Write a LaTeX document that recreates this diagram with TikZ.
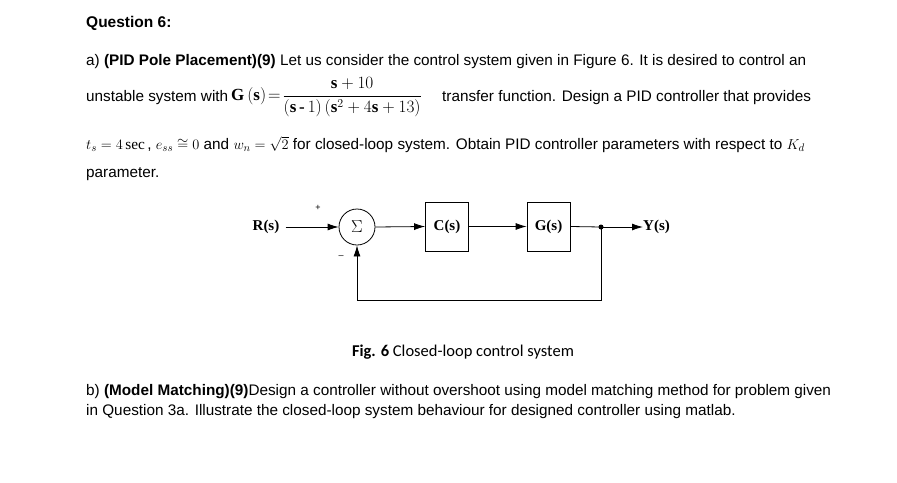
\documentclass[tikz,border=0pt]{standalone}
\usepackage{amsmath}
\usepackage{fontspec}
\setmainfont{Liberation Sans}
\newfontfamily\tnr{Liberation Serif}
\newfontfamily\capfnt{Carlito}
\usetikzlibrary{arrows.meta}
\begin{document}
\begin{tikzpicture}[x=1pt,y=-1pt,
  txt/.style={anchor=base west,inner sep=0,font=\fontsize{15.3}{17}\selectfont},
  blk/.style={draw,thick,minimum width=43pt,minimum height=49pt,inner sep=0,font=\tnr\bfseries\fontsize{15}{17}\selectfont},
  lab/.style={inner sep=0,font=\tnr\bfseries\fontsize{15}{17}\selectfont},
  sig/.style={thick,-{Latex[length=11pt,width=7pt]}},
  ln/.style={thick}]
\path[fill=white] (0,0) rectangle (897,482);
\node[txt,font=\bfseries\fontsize{15.5}{17}\selectfont] (q) at (86,27) {Question 6:};
\node[txt] (l1) at (86,65) {a) \textbf{(PID Pole Placement)(9)} Let us consider the control system given in Figure 6. It is desired to control an};
\node[txt] (l2) at (86,101) {unstable system with};
\node[anchor=west,inner sep=0,font=\fontsize{17}{19}\selectfont] (gf) at (231,97) {\tnr\bfseries $\text{G}\left(\text{s}\right)\!=\!\dfrac{\text{s}+10}{\left(\text{s}\,\text{-}\,1\right)\left(\text{s}^{2}+4\text{s}+13\right)}$};
\node[txt] (l2b) at (442,101) {transfer function. Design a PID controller that provides};
\node[txt] (l3) at (86,149) {{\tnr$t_s=4\,\text{sec}$}\,, {\tnr$e_{ss}\cong 0$} and {\tnr$w_n=\sqrt{2}$} for closed-loop system. Obtain PID controller parameters with respect to {\tnr$K_d$}};
\node[txt] (l4) at (86,177) {parameter.};
% diagram
\node[lab] (R) at (266,227) {R(s)};
\node[draw,thick,circle,minimum size=36pt,inner sep=0] (S) at (357,227) {\fontsize{17}{19}\selectfont$\Sigma$};
\node[blk] (C) at (447,226.5) {C(s)};
\node[blk] (G) at (548.5,226.5) {G(s)};
\coordinate (J) at (601,227);
\node[lab,anchor=west] (Y) at (643,227) {Y(s)};
\coordinate (B) at (601,300);
\coordinate (B2) at (357,300);
\node[font=\small,inner sep=0] (p) at (318,208) {+};
\node[font=\small,inner sep=0] (m) at (341,257) {--};
\draw[sig] (R.east)++(6,0) -- (S.west);
\draw[sig] (S.east) -- (C.west);
\draw[sig] (C.east) -- (G.west);
\draw[ln] (G.east) -- (J);
\draw[sig] (J) -- (Y.west);
\fill (J) circle (2.5pt);
\draw[ln] (J) -- (B) -- (B2);
\draw[sig] (B2) -- (S.south);
\node[anchor=base,inner sep=0,font=\capfnt\fontsize{16.5}{18}\selectfont] (cap) at (463,356) {\textbf{Fig. 6} Closed-loop control system};
\node[txt] (b1) at (86,395) {b) \textbf{(Model Matching)(9)}Design a controller without overshoot using model matching method for problem given};
\node[txt] (b2) at (86,415) {in Question 3a. Illustrate the closed-loop system behaviour for designed controller using matlab.};
\end{tikzpicture}
\end{document}
